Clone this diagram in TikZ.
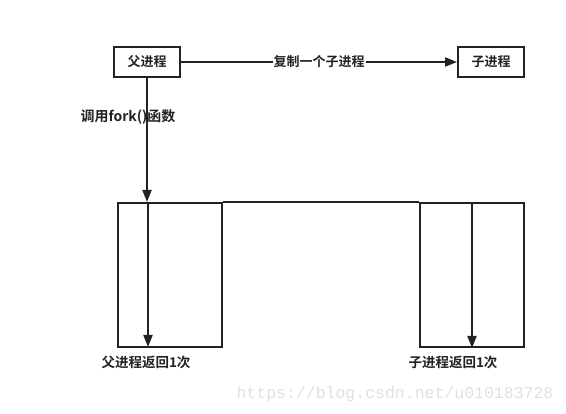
\documentclass[tikz,border=0pt]{standalone}
\usepackage{fontspec}
\newfontfamily\cjk{Noto Sans CJK SC}[BoldFont={* Bold}]
\newfontfamily\wm{Liberation Mono}
\usetikzlibrary{arrows.meta}
\definecolor{ink}{HTML}{222222}
\tikzset{
  procbox/.style={draw=ink, line width=2pt, minimum width=66pt, minimum height=30pt, inner sep=0pt, font=\cjk\bfseries\fontsize{13}{15}\selectfont, text=ink},
  tallbox/.style={draw=ink, line width=2pt, minimum width=104pt, minimum height=144pt, inner sep=0pt},
  conn/.style={draw=ink, line width=2pt},
  arr/.style={conn, -{Triangle[length=12pt,width=9pt]}},
  lbl/.style={font=\cjk\bfseries\fontsize{13.5}{15}\selectfont, text=ink, inner sep=1pt},
}
\begin{document}
\begin{tikzpicture}[x=1pt,y=-1pt]
\useasboundingbox (0,0) rectangle (566,414);
\node[procbox] (fu) at (147,62) {父进程};
\node[procbox] (zi) at (491,62) {子进程};
\node[tallbox] (lb) at (170,275) {};
\node[tallbox] (rb) at (472,275) {};
\draw[arr] (fu.east) -- node[lbl, fill=white, font=\cjk\bfseries\fontsize{13}{15}\selectfont] (cp) {复制一个子进程} (zi.west);
\draw[conn] (lb.north east) -- (rb.north west);
\draw[arr] (fu.south) -- (fu.south |- lb.north);
\coordinate (lt) at (148,203);
\coordinate (lbt) at (148,347);
\draw[arr] (lt) -- (lbt);
\draw[arr] (rb.north) -- (rb.south);
\node[lbl, font=\cjk\bfseries\fontsize{14}{16}\selectfont] (fk) at (128,117) {调用fork()函数};
\node[lbl] (fr) at (146,362) {父进程返回1次};
\node[lbl] (zr) at (453,362) {子进程返回1次};
\node[font=\wm\fontsize{16.5}{18}\selectfont, text=black!12, inner sep=0pt] (wm) at (395,394) {https://blog.csdn.net/u010183728};
\end{tikzpicture}
\end{document}
